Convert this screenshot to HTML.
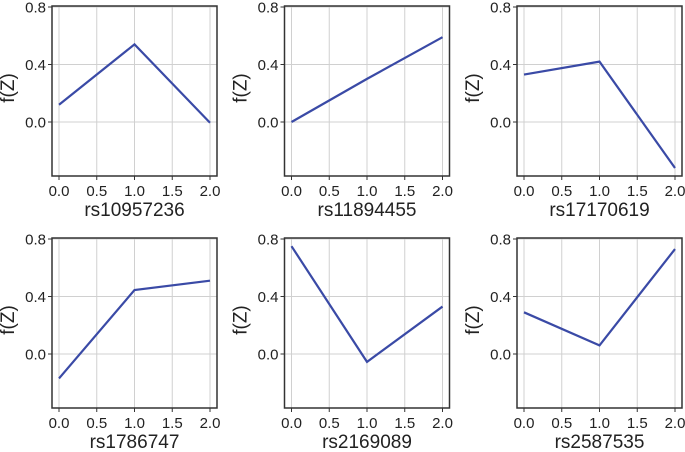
<!DOCTYPE html>
<html><head><meta charset="utf-8"><style>
html,body{margin:0;padding:0;background:#fff;}
svg{display:block;font-family:"Liberation Sans",Arial,sans-serif;}
</style></head><body>
<svg id="chart" width="685" height="452"></svg>
<script>
const snpNames = ["rs10957236","rs11894455","rs17170619","rs1786747","rs2169089","rs2587535"];
const xCategories = [0, 1, 2];
const xTickLabels = ["0.0","0.5","1.0","1.5","2.0"];
const xTickValues = [0, 0.5, 1, 1.5, 2];
const yTickValues = [0, 0.4, 0.8];
const yTickLabels = ["0.0","0.4","0.8"];
const series0 = [0.12, 0.54, -0.005];
const series1 = [0.0, 0.30, 0.59];
const series2 = [0.33, 0.42, -0.32];
const series3 = [-0.17, 0.445, 0.51];
const series4 = [0.75, -0.055, 0.33];
const series5 = [0.29, 0.06, 0.73];
const allSeries = [series0, series1, series2, series3, series4, series5];

const NS = "http://www.w3.org/2000/svg";
const svg = document.getElementById("chart");
function mk(tag, attrs, parent){const e=document.createElementNS(NS,tag);for(const k in attrs)e.setAttribute(k,attrs[k]);parent.appendChild(e);return e;}

for (let i = 0; i < 6; i++) {
  const col = i % 3, row = Math.floor(i / 3);
  const left = 52 + col * 232.5, top = 6 + row * 232;
  const w = 165, h = 170;
  const g = mk("g", {}, svg);
  
  
  const xs = v => left + 7 + (v / 2) * 151;
  const ys = v => top + 1 + (0.8 - v) * 143.75;
  xTickValues.forEach((v, k) => {
    const l = mk("line", {x1: xs(v), x2: xs(v), y1: top, y2: top + h, stroke: "#d0d0d0", "stroke-width": 1}, g);
    
    
    const t = mk("text", {x: xs(v), y: top + h + 20, "text-anchor": "middle", "font-size": 15, fill: "#222"}, g);
    t.textContent = xTickLabels[k];
    
    
    mk("line", {x1: xs(v), x2: xs(v), y1: top + h, y2: top + h + 4, stroke: "#333", "stroke-width": 1}, g);
  });
  yTickValues.forEach((v, k) => {
    const l = mk("line", {x1: left, x2: left + w, y1: ys(v), y2: ys(v), stroke: "#d0d0d0", "stroke-width": 1}, g);
    
    
    const t = mk("text", {x: left - 6, y: ys(v) + 5.5, "text-anchor": "end", "font-size": 15, fill: "#222"}, g);
    t.textContent = yTickLabels[k];
    
    
    mk("line", {x1: left - 4, x2: left, y1: ys(v), y2: ys(v), stroke: "#333", "stroke-width": 1}, g);
  });
  const box = mk("rect", {x: left, y: top, width: w, height: h, fill: "none", stroke: "#333", "stroke-width": 1.5}, g);
  
  
  const pts = xCategories.map((c, k) => xs(c) + "," + ys(allSeries[i][k])).join(" ");
  const line = mk("polyline", {points: pts, fill: "none", stroke: "#3a4aa6", "stroke-width": 2.2}, g);
  
  
  const xt = mk("text", {x: left + w / 2, y: top + h + 40, "text-anchor": "middle", "font-size": 19, fill: "#222"}, g);
  xt.textContent = snpNames[i];
  
  
  const cy = top + 82;
  const yt = mk("text", {x: left - 38, y: cy, "text-anchor": "middle", "font-size": 19, fill: "#222", transform: "rotate(-90 " + (left - 38) + " " + cy + ")"}, g);
  yt.textContent = "f(Z)";
  
  
}
</script>
</body></html>
